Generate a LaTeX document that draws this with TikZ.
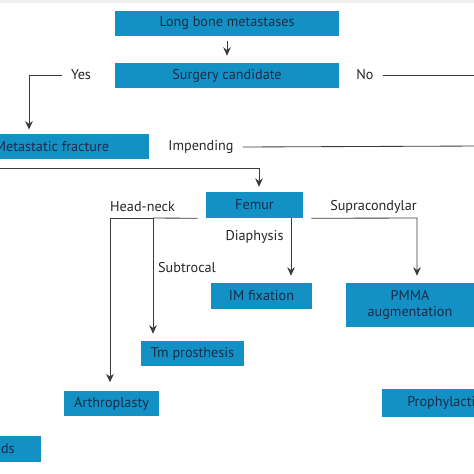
\documentclass[tikz,border=0pt]{standalone}
\usepackage{fontspec}
\setmainfont{PT Sans}
\usepackage{xcolor}
\usetikzlibrary{arrows.meta,calc}

\definecolor{boxblue}{HTML}{1391C4}
\definecolor{boxtext}{HTML}{1B2C4A}
\definecolor{linegray}{HTML}{3A3A3A}

\begin{document}
\begin{tikzpicture}[x=0.025cm,y=-0.025cm,
    box/.style={fill=boxblue,text=boxtext,font=\fontsize{10.1}{11}\selectfont,
      inner sep=0pt,align=center,minimum height=25*0.025cm},
    lbl/.style={text=black!85,font=\fontsize{10.1}{11}\selectfont,inner xsep=6.4pt,inner ysep=0pt},
    link/.style={draw=linegray,line width=0.6pt},
    arr/.style={link,-{Stealth[length=6pt,width=5.4pt]},shorten >=5pt}]
  \useasboundingbox (0,0) rectangle (474,474);
  \clip (0,0) rectangle (474,474);
  \fill[gray!12] (0,0) rectangle (474,3);

  % boxes
  \node[box,minimum width=224*0.025cm] (lbm) at (227,23.5) {Long bone metastases};
  \node[box,minimum width=224*0.025cm] (surg) at (227,75.5) {Surgery candidate};
  \node[box,minimum width=194*0.025cm] (metfx) at (52,146.5) {Metastatic fracture};
  \node[box,minimum width=97*0.025cm,minimum height=26*0.025cm] (femur) at (254.5,205) {Femur};
  \node[box,minimum width=101*0.025cm,minimum height=26*0.025cm] (imfix) at (261.5,296) {IM fixation};
  \node[box,minimum width=128*0.025cm,minimum height=44*0.025cm] (pmma) at (410,305) {PMMA\\augmentation};
  \node[box,minimum width=103*0.025cm] (tm) at (192.5,353.5) {Tm prosthesis};
  \node[box,minimum width=95*0.025cm] (arthro) at (111.5,403.5) {Arthroplasty};
  \node[box,anchor=west,minimum height=28*0.025cm,text width=120*0.025cm,align=left,
    inner xsep=25*0.025cm] (proph) at (382,403) {Prophylactic};
  \node[box,anchor=east,minimum height=26*0.025cm,inner xsep=26*0.025cm] (palli) at (41,449) {ds};

  % labels
  \node[lbl] (yes) at (81,75) {Yes};
  \node[lbl] (no) at (365,75) {No};
  \node[lbl] (imp) at (201,147) {Impending};
  \node[lbl] (hn) at (142.5,207) {Head-neck};
  \node[lbl] (supra) at (373.5,207) {Supracondylar};
  \node[lbl] (dia) at (254.5,237) {Diaphysis};
  \node[lbl] (subt) at (187,268) {Subtrocal};

  % turning points
  \coordinate (yesturn) at (29,75);
  \coordinate (noend) at (480,75);
  \coordinate (impend) at (480,146);
  \coordinate (fxin) at (-5,168);
  \coordinate (fxturn) at (259,168);
  \coordinate (hnstart) at ($(femur.south west)+(-8,0)$);
  \coordinate (hnturn) at (110,218);
  \coordinate (stsplit) at (153,218);
  \coordinate (diastart) at (291,218);
  \coordinate (scstart) at ($(femur.south east)+(8,0)$);
  \coordinate (scturn) at (417,218);

  % connectors
  \draw[arr,shorten <=3pt] (lbm) -- (surg);
  \draw[arr,shorten >=3pt] (yes.west) -- (yesturn) -- (yesturn |- metfx.north);
  \draw[link] (no.east) -- (noend);
  \draw[link] (imp.east) -- (impend);
  \draw[arr,shorten >=3.5pt] (fxin) -- (fxturn) -- (fxturn |- femur.north);
  \draw[link] (hnstart) -- (stsplit);
  \draw[arr,shorten >=6pt] (stsplit) -- (hnturn) -- (hnturn |- arthro.north);
  \draw[arr] (stsplit) -- (stsplit |- tm.north);
  \draw[arr] (diastart) -- (diastart |- imfix.north);
  \draw[arr] (scstart) -- (scturn) -- (scturn |- pmma.north);
\end{tikzpicture}
\end{document}
